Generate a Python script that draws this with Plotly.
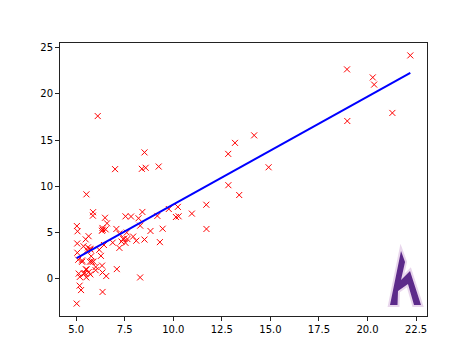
import plotly.graph_objects as go

population = [6.1101, 5.5277, 8.5186, 7.0032, 5.8598, 8.3829, 7.4764, 8.5781, 6.4862, 5.0546,
              5.7107, 14.164, 5.734, 8.4084, 5.6407, 5.3794, 6.3654, 5.1301, 6.4296, 7.0708,
              6.1891, 20.27, 5.4901, 6.3261, 5.5649, 18.945, 12.828, 10.957, 13.176, 22.203,
              5.2524, 6.5894, 9.2482, 5.8918, 8.2111, 7.9334, 8.0959, 5.6063, 12.836, 6.3534,
              5.4069, 6.8825, 11.708, 5.7737, 7.8247, 7.0931, 5.0702, 5.8014, 11.7, 5.5416,
              7.5402, 5.3077, 7.4239, 7.6031, 6.3328, 6.3589, 6.2742, 5.6397, 9.3102, 9.4536,
              8.8254, 5.1793, 21.279, 14.908, 18.959, 7.2182, 8.2951, 10.236, 5.4994, 20.341,
              10.136, 7.3345, 6.0062, 7.2259, 5.0269, 6.5479, 7.5386, 5.0365, 10.274, 5.1077,
              5.7292, 5.1884, 6.3557, 9.7687, 6.5159, 8.5172, 9.1802, 6.002, 5.5204, 5.0594,
              5.7077, 7.6366, 5.8707, 5.3054, 8.2934, 13.394, 5.4369]
profit = [17.592, 9.1302, 13.662, 11.854, 6.8233, 11.886, 4.3483, 12.0, 6.5987, 3.8166,
          3.2522, 15.505, 3.1551, 7.2258, 0.71618, 3.5129, 5.3048, 0.56077, 3.6518, 5.3893,
          3.1386, 21.767, 4.263, 5.1875, 3.0825, 22.638, 13.501, 7.0467, 14.692, 24.147,
          -1.22, 5.9966, 12.134, 1.8495, 6.5426, 4.5623, 4.1164, 3.3928, 10.117, 5.4974,
          0.55657, 3.9115, 5.3854, 2.4406, 6.7318, 1.0463, 5.1337, 1.844, 8.0043, 1.0179,
          6.7504, 1.8396, 4.2885, 4.9981, 1.4233, -1.4211, 2.4756, 4.6042, 3.9624, 5.4141,
          5.1694, -0.74279, 17.929, 12.054, 17.054, 4.8852, 5.7442, 7.7754, 1.0173, 20.992,
          6.6799, 4.0259, 1.2784, 3.3411, -2.6807, 0.29678, 3.8845, 5.7014, 6.7526, 2.0576,
          0.47953, 0.20421, 0.67861, 7.5435, 5.3436, 4.2415, 6.7981, 0.92695, 0.152, 2.8214,
          1.8451, 4.2959, 7.2029, 1.9869, 0.14454, 9.0551, 0.61705]

fit_x = [5.0269, 22.203]
fit_y = [2.23, 22.27]

x_ticks = [5.0, 7.5, 10.0, 12.5, 15.0, 17.5, 20.0, 22.5]
x_tick_labels = ["5.0", "7.5", "10.0", "12.5", "15.0", "17.5", "20.0", "22.5"]
y_ticks = [0, 5, 10, 15, 20, 25]
y_tick_labels = ["0", "5", "10", "15", "20", "25"]

W, H = 474, 355
L, R, T, B = 60, 47, 43, 39

fig = go.Figure()
fig.add_trace(go.Scatter(x=population, y=profit, mode="markers",
                         marker=dict(symbol="x-thin", size=6, color="red",
                                     line=dict(width=1, color="red")),
                         showlegend=False))
fig.add_trace(go.Scatter(x=fit_x, y=fit_y, mode="lines",
                         line=dict(color="blue", width=2), showlegend=False))

# watermark logo (pixel coords -> paper)
logo_px = [(401, 251), (405, 262), (401, 280), (410, 271), (421, 305), (414, 305),
           (408, 284), (398, 291), (397.5, 305), (390, 305)]
pw, ph = W - L - R, H - T - B
pts = [((px - L) / pw, (H - B - py) / ph) for px, py in logo_px]
path = "M " + " L ".join(f"{x:.4f},{y:.4f}" for x, y in pts) + " Z"
fig.add_shape(type="path", path=path, xref="paper", yref="paper",
              line=dict(color="#e8d6ec", width=4), fillcolor="#e8d6ec", layer="above")
fig.add_shape(type="path", path=path, xref="paper", yref="paper",
              line=dict(width=0), fillcolor="#5c2a8a", layer="above")

axis_common = dict(showgrid=False, zeroline=False, showline=True, mirror=True,
                   linecolor="#222222", linewidth=1, ticks="outside", ticklen=4,
                   tickwidth=1, tickcolor="#222222",
                   tickfont=dict(family="DejaVu Sans", size=10, color="black"))
fig.update_xaxes(range=[4.168, 23.062], tickvals=x_ticks, ticktext=x_tick_labels, **axis_common)
fig.update_yaxes(range=[-4.022, 25.488], tickvals=y_ticks, ticktext=y_tick_labels, **axis_common)

fig.update_layout(width=W, height=H, margin=dict(l=L, r=R, t=T, b=B),
                  paper_bgcolor="white", plot_bgcolor="white",
                  font=dict(family="DejaVu Sans", size=10, color="black"))
fig.write_html("out.html")
